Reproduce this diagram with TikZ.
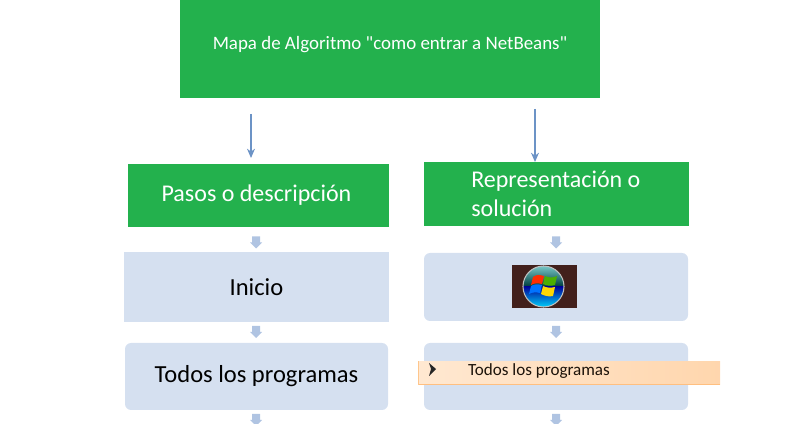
\documentclass[tikz,border=0pt]{standalone}
\usepackage{fontspec}
\setmainfont{Carlito}
\newfontfamily\plainf{Carlito}
\usetikzlibrary{arrows.meta}
\definecolor{grn}{HTML}{23B14D}
\definecolor{pale}{HTML}{D5E0F0}
\definecolor{arr}{HTML}{B0C4E2}
\definecolor{thin}{HTML}{6C93C6}
\newcommand{\blockdown}[2]{%
 \fill[arr] (#1-4,#2) -- (#1+4,#2) -- (#1+4,#2+6) -- (#1+6,#2+6) -- (#1,#2+12) -- (#1-6,#2+6) -- (#1-4,#2+6) -- cycle;}
\tikzset{
 x=0.75pt,y=-0.75pt,
 greenbox/.style={fill=grn,text=white,inner sep=0pt,align=left},
 pall/.style={fill=pale,inner sep=0pt,text=black},
 thinarr/.style={draw=thin,line width=0.8pt,-{Stealth[length=7pt,width=6pt]}}
}
\begin{document}
\begin{tikzpicture}
\useasboundingbox (0,0) rectangle (808,424);
\clip (0,0) rectangle (808,424);
% green boxes
\node[greenbox,minimum width=315pt,minimum height=73.5pt,font=\plainf\fontsize{14.2pt}{17pt}\selectfont] (top) at (390,49) {\raisebox{8.5pt}{Mapa de Algoritmo "como entrar a NetBeans"}};
\node[greenbox,minimum width=195.75pt,minimum height=47.25pt,font=\fontsize{18pt}{22pt}\selectfont] (pasos) at (258.5,195.5) {\hspace*{-3pt}Pasos o descripción};
\node[greenbox,minimum width=198.75pt,minimum height=48pt,font=\fontsize{18pt}{21.75pt}\selectfont] (repr) at (556.5,194) {\hspace*{-1pt}Representación o\\\hspace*{-1pt}solución};
% thin arrows
\coordinate (a1s) at (251,114);
\coordinate (a1e) at (251,158);
\coordinate (a2s) at (535,109);
\coordinate (a2e) at (535,162);
\draw[thinarr] (a1s) -- (a1e);
\draw[thinarr] (a2s) -- (a2e);
% pale boxes
\node[pall,minimum width=198.75pt,minimum height=52.5pt,font=\fontsize{18.4pt}{22pt}\selectfont] (inicio) at (256.5,287) {Inicio};
\node[pall,rounded corners=4.5pt,minimum width=197.25pt,minimum height=50.25pt,font=\fontsize{18.4pt}{22pt}\selectfont] (todos) at (256.5,376.5) {Todos los programas};
\node[pall,rounded corners=4.5pt,minimum width=198pt,minimum height=51pt] (win) at (556,287) {};
\node[pall,rounded corners=4.5pt,minimum width=198pt,minimum height=50.25pt] (todos2) at (556,376.5) {};
% block arrows
\blockdown{256}{236.5}
\blockdown{256}{326}
\blockdown{256}{414}
\blockdown{556}{236.5}
\blockdown{556}{326}
\blockdown{556}{414}
% Windows logo
\fill[fill={rgb,255:red,66;green,32;blue,28}] (512,265) rectangle (577,308);
\begin{scope}
\clip (543.5,286.5) circle[radius=20.5];
\shade[top color=blue!60!black,bottom color=cyan!85!blue] (520,286) rectangle (570,308);
\shade[top color=gray!55!cyan!70!white,bottom color=teal!50!black] (520,265) rectangle (570,286);
\end{scope}
\draw[gray!50!white,line width=0.8pt] (543.5,286.5) circle[radius=20.5];
\fill[red!65!orange] (533,277) .. controls (537,274) and (540,275) .. (544,276) -- (542,284) .. controls (538,283) and (534,283) .. (531,285) -- cycle;
\fill[green!55!black!70!yellow] (545,276) .. controls (549,278) and (553,278) .. (557,276) -- (555,285) .. controls (551,286) and (547,286) .. (543,284) -- cycle;
\fill[blue!55!cyan] (531,286) .. controls (534,284) and (538,284) .. (542,285) -- (540,293) .. controls (536,292) and (533,292) .. (529,294) -- cycle;
\fill[yellow!75!orange] (543,286) .. controls (547,288) and (551,288) .. (555,287) -- (553,296) .. controls (549,297) and (545,296) .. (541,294) -- cycle;
% orange menu bar
\node[inner sep=0pt,minimum width=226.5pt,minimum height=17.25pt,left color=orange!18!white,right color=orange!32!white,draw=none] (bar) at (569,373) {};
\fill[orange!50!white] (bar.south west) rectangle ([yshift=0.8pt]bar.south east);
\fill[orange!45!white] (bar.south west) rectangle ([xshift=0.6pt]bar.north west);
\fill[black!85] (429,363) -- (436,369) -- (429,376) -- (431,369) -- cycle;
\node[inner sep=0pt,text=black!85!brown,font=\fontsize{12.8pt}{15pt}\selectfont] (bartext) at (539,371) {Todos los programas};
\end{tikzpicture}
\end{document}
